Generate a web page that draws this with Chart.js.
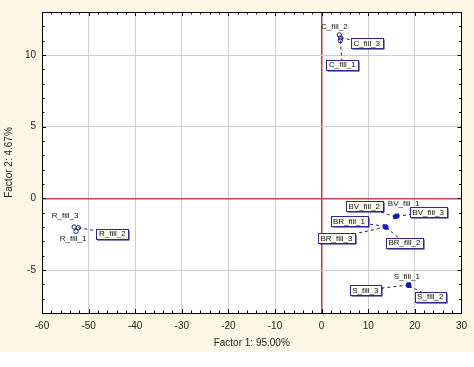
<!DOCTYPE html>
<html>
<head>
<meta charset="utf-8">
<script src="https://cdn.jsdelivr.net/npm/chart.js@4"></script>
<style>
  html, body { margin: 0; padding: 0; background: #ffffff; }
  #wrap { width: 474px; height: 352px; background: #fcf6e5; }
  canvas { display: block; }
</style>
</head>
<body>
<div id="wrap"><canvas id="pca" width="474" height="352"></canvas></div>
<script>
// sample scores (Factor 1 / Factor 2)
const sampleNames = [
    'C_fill_1', 'C_fill_2', 'C_fill_3',
    'R_fill_1', 'R_fill_2', 'R_fill_3',
    'BV_fill_1', 'BV_fill_2', 'BV_fill_3',
    'BR_fill_1', 'BR_fill_2', 'BR_fill_3',
    'S_fill_1', 'S_fill_2', 'S_fill_3'
];
const factor1 = [4.0, 3.8, 4.1, -52.7, -52.2, -53.1, 16.1, 15.8, 16.2, 13.6, 13.9, 13.7, 18.7, 18.8, 18.6];
const factor2 = [11.0, 11.4, 11.2, -2.3, -2.05, -2.0, -1.2, -1.3, -1.25, -1.95, -2.05, -2.0, -6.0, -6.1, -6.05];
const xTicks = [-60, -50, -40, -30, -20, -10, 0, 10, 20, 30];
const yTicks = [-5, 0, 5, 10];

// label placement (pixel offset from the point, boxed or plain)
const labelLayout = {
    'C_fill_1': { dx: 2, dy: 24, box: true },
    'C_fill_2': { dx: -5, dy: -9, box: false },
    'C_fill_3': { dx: 26, dy: 5, box: true },
    'R_fill_1': { dx: -3, dy: 7, box: false },
    'R_fill_2': { dx: 34, dy: 6, box: true },
    'R_fill_3': { dx: -9, dy: -12, box: false },
    'BV_fill_1': { dx: 7, dy: -12, box: false },
    'BV_fill_2': { dx: -31, dy: -11, box: true },
    'BV_fill_3': { dx: 31, dy: -4, box: true },
    'BR_fill_1': { dx: -36, dy: -5, box: true },
    'BR_fill_2': { dx: 18, dy: 15, box: true },
    'BR_fill_3': { dx: -49, dy: 11, box: true },
    'S_fill_1': { dx: -2, dy: -8, box: false },
    'S_fill_2': { dx: 21, dy: 11, box: true },
    'S_fill_3': { dx: -43, dy: 5, box: true }
};

const FONT = '"Liberation Sans", Arial, sans-serif';
const isOpen = name => name.startsWith('C_') || name.startsWith('R_');

const points = sampleNames.map((n, i) => ({ x: factor1[i], y: factor2[i], name: n }));

// white plot area
const plotBgPlugin = {
    id: 'plotBg',
    beforeDraw(chart) {
        const { ctx, chartArea: a } = chart;
        ctx.save();
        ctx.fillStyle = '#ffffff';
        ctx.fillRect(a.left, a.top, a.right - a.left, a.bottom - a.top);
        ctx.restore();
    }
};

// frame, inward minor ticks, point labels
const framePlugin = {
    id: 'frame',
    afterDatasetsDraw(chart) {
        const { ctx, chartArea: a, scales: { x, y } } = chart;
        ctx.save();
        ctx.strokeStyle = '#000';
        ctx.lineWidth = 1;
        ctx.beginPath();
        for (let v = -60; v <= 30; v += 2) {
            const px = Math.round(x.getPixelForValue(v)) + 0.5;
            const len = v % 10 === 0 ? 4 : 2.5;
            ctx.moveTo(px, a.top); ctx.lineTo(px, a.top + len);
            ctx.moveTo(px, a.bottom); ctx.lineTo(px, a.bottom - len);
        }
        for (let v = -8; v <= 13; v += 1) {
            const py = Math.round(y.getPixelForValue(v)) + 0.5;
            const len = v % 5 === 0 ? 4 : 2.5;
            ctx.moveTo(a.left, py); ctx.lineTo(a.left + len, py);
            ctx.moveTo(a.right, py); ctx.lineTo(a.right - len, py);
        }
        ctx.stroke();
        ctx.strokeRect(Math.round(a.left) + 0.5, Math.round(a.top) + 0.5,
            Math.round(a.right - a.left), Math.round(a.bottom - a.top));

        ctx.font = '8px ' + FONT;
        ctx.textAlign = 'center';
        ctx.textBaseline = 'middle';
        points.forEach(p => {
            const lay = labelLayout[p.name];
            const px = x.getPixelForValue(p.x);
            const py = y.getPixelForValue(p.y);
            if (lay.box) {
                ctx.save();
                ctx.setLineDash([3, 3]);
                ctx.strokeStyle = '#222244';
                ctx.beginPath();
                ctx.moveTo(px, py); ctx.lineTo(px + lay.dx, py + lay.dy);
                ctx.stroke();
                ctx.restore();
            }
        });
        points.forEach(p => {
            const lay = labelLayout[p.name];
            const cx = x.getPixelForValue(p.x) + lay.dx;
            const cy = y.getPixelForValue(p.y) + lay.dy;
            if (lay.box) {
                const w = Math.round(ctx.measureText(p.name).width + 5);
                const h = 10;
                const bx = Math.round(cx - w / 2) + 0.5, by = Math.round(cy - h / 2) + 0.5;
                ctx.fillStyle = '#14146e';
                ctx.fillRect(bx + 1, by + 1, w, h);
                ctx.fillStyle = '#fbfbf2';
                ctx.fillRect(bx, by, w, h);
                ctx.strokeStyle = '#2a2a90';
                ctx.strokeRect(bx, by, w, h);
            }
            ctx.fillStyle = '#111';
            ctx.fillText(p.name, cx, cy + 0.5);
        });
        ctx.restore();
    }
};

new Chart(document.getElementById('pca'), {
    type: 'scatter',
    data: {
        datasets: [{
            data: points.filter(p => !isOpen(p.name)),
            pointStyle: 'rect',
            pointRadius: 3,
            pointBackgroundColor: '#1717d0',
            pointBorderColor: '#1717d0',
            pointBorderWidth: 0
        }, {
            data: points.filter(p => isOpen(p.name)),
            pointStyle: 'circle',
            pointRadius: 2.2,
            pointBackgroundColor: 'rgba(255,255,255,0)',
            pointBorderColor: '#1c1c8c',
            pointBorderWidth: 1
        }]
    },
    options: {
        responsive: false,
        animation: false,
        layout: { padding: { top: 10, right: 10, left: 0, bottom: 0 } },
        plugins: { legend: { display: false }, tooltip: { enabled: false } },
        scales: {
            x: {
                type: 'linear',
                min: -60, max: 30,
                afterBuildTicks: s => { s.ticks = xTicks.map(v => ({ value: v })); },
                afterFit: s => { s.height = 39; },
                grid: {
                    drawTicks: false,
                    color: c => c.tick && c.tick.value === 0 ? '#c83a3a' : '#cdcdcd',
                    lineWidth: c => c.tick && c.tick.value === 0 ? 1.5 : 1
                },
                border: { display: false },
                ticks: { padding: 7, color: '#222', font: { family: FONT, size: 10 }, maxRotation: 0 },
                title: { display: true, text: 'Factor 1: 95.00%', color: '#222',
                    font: { family: FONT, size: 10 }, padding: { top: 0, bottom: 3 } }
            },
            y: {
                type: 'linear',
                min: -8, max: 13,
                afterBuildTicks: s => { s.ticks = yTicks.map(v => ({ value: v })); },
                afterFit: s => { s.width = 42; },
                grid: {
                    drawTicks: false,
                    color: c => c.tick && c.tick.value === 0 ? '#b85050' : '#cdcdcd',
                    lineWidth: c => c.tick && c.tick.value === 0 ? 1.5 : 1
                },
                border: { display: false },
                ticks: { padding: 6, color: '#222', font: { family: FONT, size: 10 } },
                title: { display: true, text: 'Factor 2: 4.67%', color: '#222',
                    font: { family: FONT, size: 10 }, padding: { top: 3, bottom: 0 } }
            }
        }
    },
    plugins: [plotBgPlugin, framePlugin]
});
</script>
</body>
</html>
